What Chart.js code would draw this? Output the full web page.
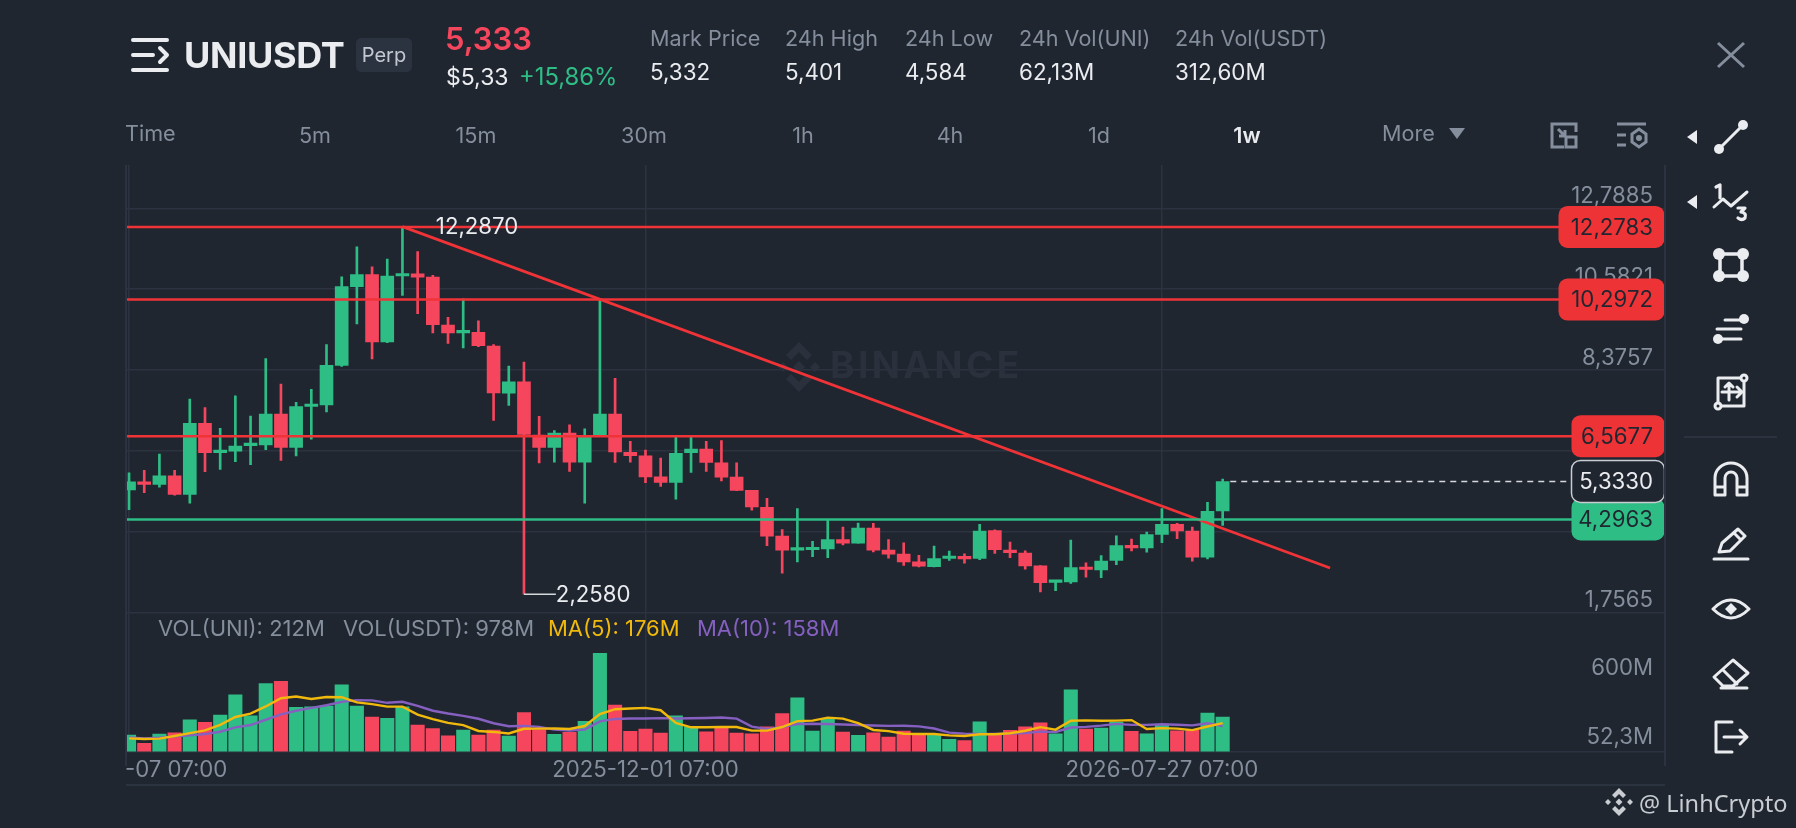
<!DOCTYPE html>
<html>
<head>
<meta charset="utf-8">
<title>UNIUSDT</title>
<style>
  html, body { margin: 0; padding: 0; background: #1f2630; overflow: hidden; }
  body { width: 1796px; height: 828px; position: relative; font-family: Inter, sans-serif; color: #848e9c; }
  canvas { position: absolute; left: 0; top: 0; }
  .t { position: absolute; white-space: nowrap; font-size: 21.6px; line-height: 28px; transform: translateY(-50%); z-index: 2; }
  .c { transform: translate(-50%, -50%); }
  .w { color: #eaecef; }
  .line { position: absolute; background: #2c3340; z-index: 1; }
  svg { position: absolute; overflow: visible; z-index: 2; }
  svg.tool { width: 40px; height: 40px; left: 1711px; fill: none; stroke: #eaecef; stroke-width: 3; stroke-linecap: round; stroke-linejoin: round; }
  svg.tool .f { fill: #eaecef; stroke: none; }
</style>
</head>
<body>
<canvas id="myChart" width="1796" height="828"></canvas>

<svg style="left:131px;top:38px" width="38" height="34" fill="none" stroke="#eaecef" stroke-width="4" stroke-linecap="round" stroke-linejoin="round">
  <path d="M2 2H36M2 17H22M2 32H36M29 10L36 17L29 24"/>
</svg>
<div class="t w" style="left:184px;top:55px;font-size:36px;font-weight:700;letter-spacing:-.3px">UNIUSDT</div>
<div style="position:absolute;left:356px;top:38px;width:56px;height:34px;background:#2b3240;border-radius:5px"></div>
<div class="t c" style="left:384px;top:55px;font-size:20px;color:#c4c9d1">Perp</div>
<div class="t" style="left:445px;top:39px;font-size:31px;font-weight:600;color:#f6465d">5,333</div>
<div class="t w" style="left:446px;top:77px;font-size:23px">$5,33</div>
<div class="t" style="left:519px;top:77px;font-size:23.8px;color:#2ebd85">+15,86%</div>

<div class="t" style="left:650px;top:38px">Mark Price</div>
<div class="t w" style="left:650px;top:72px;font-size:22.4px">5,332</div>
<div class="t" style="left:785px;top:38px">24h High</div>
<div class="t w" style="left:785px;top:72px;font-size:22.4px">5,401</div>
<div class="t" style="left:905px;top:38px">24h Low</div>
<div class="t w" style="left:905px;top:72px;font-size:22.4px">4,584</div>
<div class="t" style="left:1019px;top:38px">24h Vol(UNI)</div>
<div class="t w" style="left:1019px;top:72px;font-size:22.4px">62,13M</div>
<div class="t" style="left:1175px;top:38px">24h Vol(USDT)</div>
<div class="t w" style="left:1175px;top:72px;font-size:22.4px">312,60M</div>
<svg style="left:1717px;top:42px" width="28" height="26" stroke="#848e9c" stroke-width="3"><path d="M1 1L27 25M27 1L1 25"/></svg>

<div class="t" style="left:125px;top:133px">Time</div>
<div class="t c" style="left:315px;top:135px">5m</div>
<div class="t c" style="left:476px;top:135px">15m</div>
<div class="t c" style="left:644px;top:135px">30m</div>
<div class="t c" style="left:803px;top:135px">1h</div>
<div class="t c" style="left:950px;top:135px">4h</div>
<div class="t c" style="left:1099px;top:135px">1d</div>
<div class="t c w" style="left:1247px;top:135px;font-weight:600">1w</div>
<div class="t" style="left:1382px;top:133px">More</div>
<svg style="left:1449px;top:128px" width="16" height="11"><path d="M0 0H16L8 11Z" fill="#848e9c"/></svg>
<svg style="left:1550px;top:122px" width="28" height="27" fill="none" stroke="#848e9c" stroke-width="3"><path d="M14 2H2V25H14M14 2H26V10M8 7L15 14M15 8V14H9"/><rect x="16" y="15" width="10" height="10"/></svg>
<svg style="left:1617px;top:122px" width="30" height="28" fill="none" stroke="#848e9c" stroke-width="3"><path d="M0 2H29M0 13H9M0 23H9"/><path d="M22 7L29 12V20L22 25L15 20V12Z"/><circle cx="22" cy="16" r="1.5"/></svg>

<svg style="left:1687px;top:130px" width="10" height="14"><path d="M10 0V14L0 7Z" fill="#eaecef"/></svg>
<svg style="left:1687px;top:195px" width="10" height="14"><path d="M10 0V14L0 7Z" fill="#eaecef"/></svg>
<svg class="tool" style="top:117px" viewBox="0 0 40 40"><path d="M9 31L31 9"/><circle class="f" cx="8" cy="32" r="5"/><circle class="f" cx="32" cy="8" r="5"/></svg>
<svg class="tool" style="top:182px" viewBox="0 0 40 40"><path d="M3 25L12 17L20 24L36 10"/><path d="M5 5L9 3V16M27 26H34L30 30Q36 31 34 36Q31 39 27 36" stroke-width="3.2"/></svg>
<svg class="tool" style="top:245px" viewBox="0 0 40 40"><path d="M8 9H32M8 31H32M9 9V31M31 9V31" stroke-width="3.5"/><circle class="f" cx="8" cy="9" r="6"/><circle class="f" cx="32" cy="9" r="6"/><circle class="f" cx="8" cy="31" r="6"/><circle class="f" cx="32" cy="31" r="6"/></svg>
<svg class="tool" style="top:308px" viewBox="0 0 40 40"><path d="M6 21H30M14 12H32M6 31H30"/><circle class="f" cx="33" cy="11" r="5"/><circle class="f" cx="7" cy="31" r="5"/></svg>
<svg class="tool" style="top:372px" viewBox="0 0 40 40"><path d="M7 6H33V34H7Z"/><circle cx="33" cy="6" r="3" fill="#1f2630"/><circle cx="7" cy="34" r="3" fill="#1f2630"/><path d="M11 20H30M26 15L31 20L26 25M18 12V28M14 15L18 11L22 15"/></svg>
<div class="line" style="left:1684px;top:436px;width:93px;height:2px"></div>
<svg class="tool" style="top:460px" viewBox="0 0 40 40"><path d="M4 35V18A16 15 0 0 1 36 18V35H26V18A6 6 0 0 0 14 18V35ZM4 27H14M26 27H36"/></svg>
<svg class="tool" style="top:523px" viewBox="0 0 40 40"><path d="M3 36H37M8 29L11 20L27 6L34 13L19 28ZM23 10L30 17"/></svg>
<svg class="tool" style="top:589px" viewBox="0 0 40 40"><path d="M2 20Q20 2 38 20Q20 38 2 20Z"/><path class="f" d="M20 14L26 20L20 26L14 20Z"/></svg>
<svg class="tool" style="top:653px" viewBox="0 0 40 40"><path d="M3 24L22 7L37 20L22 33H12ZM12 17L26 31M10 35H36"/></svg>
<svg class="tool" style="top:717px" viewBox="0 0 40 40"><path d="M21 5H5V35H21M13 20H36M29 13L36 20L29 27"/></svg>

<div class="line" style="left:125px;top:165px;width:1.5px;height:601px"></div>
<div class="line" style="left:1664px;top:165px;width:1.5px;height:601px"></div>
<div class="line" style="left:126px;top:784px;width:1539px;height:1.5px"></div>

<div class="t" style="left:158px;top:628px;font-size:22px">VOL(UNI): 212M</div>
<div class="t" style="left:343px;top:628px;font-size:22px">VOL(USDT): 978M</div>
<div class="t" style="left:548px;top:628px;font-size:22px;color:#f0b90b">MA(5): 176M</div>
<div class="t" style="left:697px;top:628px;font-size:22px;color:#8560c0">MA(10): 158M</div>

<svg style="left:1605px;top:788px" width="28" height="28" viewBox="0 0 28 28" fill="#c9ccd1"><path d="M14 0L21 7L18 10L14 6L10 10L7 7ZM14 28L21 21L18 18L14 22L10 18L7 21ZM0 14L3 11L6 14L3 17ZM22 14L25 11L28 14L25 17ZM14 10.5L17.5 14L14 17.5L10.5 14Z"/></svg>
<div class="t" style="left:1639px;top:803px;font-family:'Noto Sans';font-size:23.5px;color:#c9ccd1">@ LinhCrypto</div>

<script src="https://cdn.jsdelivr.net/npm/chart.js@4/dist/chart.umd.min.js"></script>
<script>
const opens = [5.10, 5.32, 5.25, 5.49, 4.98, 6.92, 6.12, 6.16, 6.31, 6.33, 7.17, 6.26, 7.38, 7.42, 8.50, 10.65, 10.98, 9.14, 10.94, 11.00, 10.91, 9.60, 9.39, 9.40, 9.03, 7.74, 8.05, 6.60, 6.26, 6.65, 5.86, 6.59, 7.17, 6.13, 6.03, 5.46, 5.31, 6.12, 6.22, 5.84, 5.45, 5.09, 4.63, 3.84, 3.46, 3.47, 3.49, 3.75, 3.65, 4.06, 3.46, 3.35, 3.14, 3.01, 3.23, 3.27, 3.23, 3.99, 3.46, 3.38, 3.03, 2.58, 2.59, 2.98, 2.92, 3.18, 3.59, 3.52, 3.89, 4.16, 3.98, 3.27, 4.53];
const closes = [5.32, 5.25, 5.49, 4.98, 6.92, 6.12, 6.17, 6.30, 6.37, 7.17, 6.26, 7.38, 7.44, 8.50, 10.65, 10.98, 9.14, 10.94, 11.00, 10.91, 9.61, 9.39, 9.44, 9.04, 7.75, 8.05, 6.62, 6.26, 6.65, 5.86, 6.54, 7.17, 6.14, 6.04, 5.46, 5.31, 6.10, 6.22, 5.85, 5.45, 5.09, 4.64, 3.84, 3.46, 3.52, 3.53, 3.75, 3.65, 4.06, 3.46, 3.35, 3.14, 3.02, 3.23, 3.28, 3.22, 3.98, 3.47, 3.39, 3.03, 2.57, 2.63, 2.98, 2.93, 3.16, 3.58, 3.52, 3.88, 4.16, 3.98, 3.27, 4.52, 5.333];
const highs = [5.57, 5.64, 6.08, 5.64, 7.58, 7.35, 6.78, 7.67, 7.12, 8.69, 7.99, 7.49, 7.85, 9.07, 10.92, 11.74, 11.19, 11.40, 12.287, 11.61, 10.96, 9.81, 10.32, 9.72, 9.07, 8.48, 8.59, 7.11, 6.72, 6.88, 6.77, 10.30, 8.15, 6.43, 6.19, 5.97, 6.54, 6.54, 6.43, 6.45, 5.84, 5.09, 4.87, 4.02, 4.59, 3.70, 4.28, 4.09, 4.20, 4.19, 3.75, 3.66, 3.32, 3.57, 3.43, 3.36, 4.16, 4.01, 3.68, 3.44, 3.04, 2.63, 3.73, 3.11, 3.31, 3.85, 3.76, 3.95, 4.59, 4.19, 4.09, 4.76, 5.40];
const lows = [4.56, 5.03, 5.18, 4.96, 4.74, 5.60, 5.66, 5.87, 5.79, 6.20, 5.91, 6.03, 6.49, 7.23, 8.47, 9.63, 8.68, 9.12, 10.41, 9.91, 9.39, 9.10, 8.98, 9.01, 7.00, 7.41, 2.258, 5.84, 5.86, 5.61, 4.74, 6.56, 5.85, 5.86, 5.30, 5.20, 4.85, 5.58, 5.61, 5.35, 5.08, 4.55, 3.58, 2.83, 3.14, 3.28, 3.25, 3.60, 3.65, 3.41, 3.24, 3.04, 3.00, 3.00, 3.18, 3.10, 3.20, 3.37, 3.25, 2.94, 2.32, 2.35, 2.55, 2.72, 2.71, 3.06, 3.44, 3.40, 3.66, 3.77, 3.16, 3.22, 4.13];
const volumes = [103, 52.3, 109, 117, 196, 180, 224, 347, 220, 416, 430, 271, 275, 279, 408, 279, 212, 204, 275, 164, 143, 99, 133, 103, 133, 97, 240, 137, 107, 119, 186, 600, 285, 125, 139, 115, 220, 153, 123, 149, 115, 111, 153, 234, 329, 127, 204, 121, 101, 117, 91, 127, 109, 103, 77, 69, 184, 109, 131, 153, 178, 111, 378, 139, 145, 182, 125, 111, 164, 129, 137, 236, 212];
const ma5 = [83, 79, 81, 97, 115, 131, 165, 213, 233, 277, 327, 337, 322, 334, 333, 302, 291, 276, 276, 227, 200, 177, 163, 128, 122, 113, 141, 142, 143, 140, 158, 231, 260, 264, 268, 254, 177, 150, 150, 152, 152, 130, 130, 152, 188, 191, 209, 203, 176, 134, 127, 111, 109, 109, 101, 97, 108, 108, 114, 129, 151, 136, 190, 192, 190, 191, 194, 140, 145, 142, 133, 155, 176];
const ma10 = [89, 83, 87, 95, 101, 109, 123, 150, 164, 196, 229, 251, 268, 284, 305, 315, 314, 299, 305, 280, 251, 234, 220, 202, 175, 157, 159, 153, 136, 131, 136, 186, 201, 204, 204, 206, 204, 205, 207, 210, 203, 154, 140, 151, 170, 172, 170, 167, 164, 161, 159, 160, 156, 143, 118, 112, 110, 109, 112, 115, 124, 122, 149, 153, 160, 171, 165, 165, 169, 166, 162, 175, 158];

const priceTicks = [12.7885, 10.5821, 8.3757, 6.1693, 3.9629, 1.7565];
const priceTickLabels = ["12,7885", "10,5821", "8,3757", "", "", "1,7565"];
const timeTicks = [0, 34, 68];
const timeTickLabels = ["", "2025-12-01 07:00", "2026-07-27 07:00"];
const clippedTimeLabel = "-07 07:00";
const volumeLabels = [[600, "600M"], [52.3, "52,3M"]];

const redLevels = [12.2783, 10.2972, 6.5677];
const greenLevel = 4.2963;
const lastPrice = 5.333;
const trendX = [18, 79.07];
const trendY = [12.287, 2.97];
const xMin = -0.2;
const xMax = 101.12;

const GREEN = "#2ebd85";
const RED = "#f6465d";
const LEVEL_RED = "#f03337";
const GRID = "#2c3340";
const BG = "#1f2630";
const TEXT = "#eaecef";
const MUTED = "#848e9c";

const upOrDown = opens.map((o, i) => (closes[i] >= o ? GREEN : RED));
const span = (y) => [{ x: xMin, y }, { x: xMax, y }];
const flat = { type: "line", pointRadius: 0, borderWidth: 2.4, yAxisID: "y", tension: 0 };

const datasets = [
  { ...flat, data: span(redLevels[0]), borderColor: LEVEL_RED, order: 1 },
  { ...flat, data: span(redLevels[1]), borderColor: LEVEL_RED, order: 1 },
  { ...flat, data: span(redLevels[2]), borderColor: LEVEL_RED, order: 1 },
  { ...flat, data: span(greenLevel), borderColor: GREEN, order: 1 },
  { ...flat, data: trendX.map((x, i) => ({ x, y: trendY[i] })), borderColor: LEVEL_RED, borderWidth: 2.8, order: 1 },
  { ...flat, data: [{ x: 72.5, y: lastPrice }, { x: 95, y: lastPrice }], borderColor: "#d5d8dc", borderWidth: 1.5, borderDash: [6, 5], order: 2 },
  { ...flat, data: [{ x: 26, y: lows[26] }, { x: 28.1, y: lows[26] }], borderColor: "#d5d8dc", borderWidth: 1.5, order: 2 },
  { ...flat, data: [{ x: 18, y: highs[18] }, { x: 20, y: highs[18] }], borderColor: "#d5d8dc", borderWidth: 1.5, order: 2 },
  {
    type: "bar", yAxisID: "y", grouped: false, barThickness: 13, minBarLength: 2.5, order: 3,
    data: opens.map((o, i) => ({ x: i, y: [o, closes[i]] })),
    backgroundColor: upOrDown,
  },
  {
    type: "bar", yAxisID: "y", grouped: false, barThickness: 2, order: 4,
    data: lows.map((l, i) => ({ x: i, y: [l, highs[i]] })),
    backgroundColor: upOrDown,
  },
  { type: "line", yAxisID: "yVol", pointRadius: 0, borderWidth: 2.4, order: 5, borderColor: "#f0b90b", data: ma5.map((y, x) => ({ x, y })) },
  { type: "line", yAxisID: "yVol", pointRadius: 0, borderWidth: 2.4, order: 5, borderColor: "#8560c0", data: ma10.map((y, x) => ({ x, y })) },
  {
    type: "bar", yAxisID: "yVol", grouped: false, barThickness: 13.4, order: 6,
    data: volumes.map((y, x) => ({ x, y })),
    backgroundColor: upOrDown,
  },
];

function priceText(p) {
  return p.toFixed(4).replace(".", ",");
}

function priceBox(ctx, y, width, fill, stroke, color, text) {
  const right = 1664.5;
  ctx.beginPath();
  ctx.roundRect(right - width, y - 21, width, 42, 9);
  ctx.fillStyle = fill;
  ctx.fill();
  if (stroke) {
    ctx.strokeStyle = stroke;
    ctx.lineWidth = 1.5;
    ctx.stroke();
  }
  ctx.fillStyle = color;
  ctx.textAlign = "right";
  ctx.textBaseline = "middle";
  ctx.fillText(text, 1653, y + 1);
}

const furniture = {
  id: "furniture",
  beforeDatasetsDraw(chart) {
    const { ctx } = chart;
    ctx.save();
    ctx.fillStyle = "#2a313d";
    ctx.font = "700 37px Inter";
    ctx.letterSpacing = "3.4px";
    ctx.textAlign = "left";
    ctx.textBaseline = "middle";
    ctx.fillText("BINANCE", 830, 367);
    // logo: two chevrons, side diamonds, centre diamond
    ctx.translate(799, 367);
    ctx.beginPath();
    [[-13, -12, 0, -25, 13, -12, 8, -7, 0, -15, -8, -7], [-13, 12, 0, 25, 13, 12, 8, 7, 0, 15, -8, 7],
      [-21, 0, -16, -5, -11, 0, -16, 5], [21, 0, 16, -5, 11, 0, 16, 5], [0, -6, 6, 0, 0, 6, -6, 0]].forEach((p) => {
      ctx.moveTo(p[0], p[1]);
      for (let i = 2; i < p.length; i += 2) ctx.lineTo(p[i], p[i + 1]);
      ctx.closePath();
    });
    ctx.fill();
    ctx.restore();
  },
  afterDatasetsDraw(chart) {
    const { ctx, scales } = chart;
    const y = scales.y;
    const yVol = scales.yVol;
    const x = scales.x;
    ctx.save();
    ctx.font = "22.2px Inter";

    ctx.fillStyle = TEXT;
    ctx.textAlign = "left";
    ctx.textBaseline = "middle";
    ctx.fillText(priceText(highs[18]), x.getPixelForValue(20.2), y.getPixelForValue(highs[18]) + 1);
    ctx.fillText(priceText(lows[26]), x.getPixelForValue(28.1), y.getPixelForValue(lows[26]) + 1);

    ctx.fillStyle = MUTED;
    ctx.textAlign = "right";
    ctx.fillText(volumeLabels[0][1], 1653, yVol.getPixelForValue(volumeLabels[0][0]) + 15);
    ctx.fillText(volumeLabels[1][1], 1653, yVol.getPixelForValue(volumeLabels[1][0]) - 6);
    ctx.textAlign = "left";
    ctx.fillText(clippedTimeLabel, 125, 770);

    priceBox(ctx, y.getPixelForValue(redLevels[0]), 106, "#ee3336", null, BG, priceText(redLevels[0]));
    priceBox(ctx, y.getPixelForValue(redLevels[1]), 106, "#ee3336", null, BG, priceText(redLevels[1]));
    priceBox(ctx, y.getPixelForValue(redLevels[2]), 93, "#ee3336", null, BG, priceText(redLevels[2]));
    priceBox(ctx, y.getPixelForValue(greenLevel), 93, GREEN, null, BG, priceText(greenLevel));
    priceBox(ctx, y.getPixelForValue(lastPrice), 93, BG, "#c9ccd1", TEXT, priceText(lastPrice));
    ctx.restore();
  },
};

const config = {
  data: { datasets },
  plugins: [furniture],
  options: {
    responsive: false,
    animation: false,
    events: [],
    layout: { padding: { left: 126, right: 131, top: 165, bottom: 36 } },
    plugins: { legend: { display: false }, tooltip: { enabled: false } },
    scales: {
      x: {
        type: "linear",
        min: xMin,
        max: xMax,
        offset: false,
        border: { display: false },
        grid: { color: GRID, lineWidth: 1.5, drawTicks: false, offset: false },
        afterBuildTicks: (s) => { s.ticks = timeTicks.map((value) => ({ value })); },
        afterFit: (s) => { s.height = 40; s.paddingLeft = 0; s.paddingRight = 0; },
        ticks: {
          color: MUTED,
          font: { family: "Inter", size: 22.2 },
          padding: 5,
          maxRotation: 0,
          autoSkip: false,
          callback: (v, i) => timeTickLabels[i],
        },
      },
      y: {
        position: "right",
        stack: "panes",
        stackWeight: 447.5,
        min: 1.7565,
        max: 13.97,
        border: { display: false },
        grid: { color: GRID, lineWidth: 1.5, drawTicks: false },
        afterBuildTicks: (s) => { s.ticks = priceTicks.map((value) => ({ value })); },
        afterFit: (s) => { s.width = 0; },
        ticks: {
          mirror: true,
          padding: -12,
          labelOffset: -12,
          color: MUTED,
          font: { family: "Inter", size: 22.2 },
          autoSkip: false,
          callback: (v, i) => priceTickLabels[i],
        },
      },
      yVol: {
        position: "right",
        stack: "panes",
        stackWeight: 139.5,
        min: 0,
        max: 848,
        border: { display: false },
        grid: { color: GRID, lineWidth: 1.5, drawTicks: false },
        afterBuildTicks: (s) => { s.ticks = [{ value: 0 }]; },
        afterFit: (s) => { s.width = 0; },
        ticks: { display: false },
      },
    },
  },
};

new Chart(document.querySelector("#myChart").getContext("2d"), config);
</script>
</body>
</html>
